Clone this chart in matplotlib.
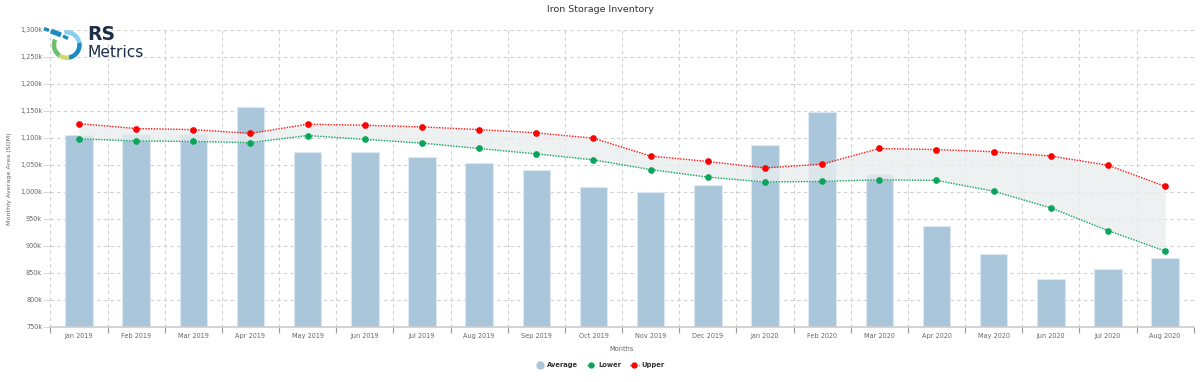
import matplotlib
matplotlib.use("Agg")
import matplotlib.pyplot as plt
from matplotlib.patches import Wedge
from matplotlib.lines import Line2D
from matplotlib.ticker import FuncFormatter, MultipleLocator
import numpy as np

months = ["Jan 2019", "Feb 2019", "Mar 2019", "Apr 2019", "May 2019", "Jun 2019",
          "Jul 2019", "Aug 2019", "Sep 2019", "Oct 2019", "Nov 2019", "Dec 2019",
          "Jan 2020", "Feb 2020", "Mar 2020", "Apr 2020", "May 2020", "Jun 2020",
          "Jul 2020", "Aug 2020"]
average = [1105, 1107, 1107, 1156, 1073, 1074, 1064, 1053, 1041, 1008, 999, 1013,
           1086, 1148, 1032, 937, 884, 838, 857, 877]
lower = [1098, 1094, 1093, 1091, 1104, 1097, 1090, 1080, 1070, 1059, 1041, 1027,
         1018, 1019, 1022, 1021, 1001, 970, 928, 890]
upper = [1126, 1117, 1115, 1108, 1125, 1123, 1120, 1115, 1109, 1099, 1066, 1056,
         1044, 1051, 1080, 1078, 1074, 1066, 1049, 1010]

W, H = 1200, 382
fig = plt.figure(figsize=(W / 100, H / 100), dpi=100)
fig.patch.set_facecolor("white")

left, right, top, bottom = 50.4, 1193.7, 29.7, 326.7
ax = fig.add_axes([left / W, 1 - bottom / H, (right - left) / W, (bottom - top) / H])

x = np.arange(len(months))
grid_c = "#d0d0d0"
ax.set_xlim(-0.5, len(months) - 0.5)
ax.set_ylim(750, 1300)
ax.yaxis.set_major_locator(MultipleLocator(50))
ax.yaxis.set_major_formatter(FuncFormatter(lambda v, p: f"{int(v):,}k"))

# grid
for yv in np.arange(750, 1301, 50):
    ax.axhline(yv, color=grid_c, lw=0.8, ls=(0, (3, 3)), zorder=0)
for xv in np.arange(-0.5, len(months), 1.0):
    ax.axvline(xv, color=grid_c, lw=0.8, ls=(0, (3, 3)), zorder=0)

ax.bar(x, average, width=0.48, bottom=0, color="#a9c6da", edgecolor="#dde8f0",
       linewidth=0.8, zorder=2)
ax.fill_between(x, lower, upper, color="#e9eeee", alpha=0.8, lw=0, zorder=3)
ax.plot(x, lower, color="#0aa55a", lw=1.0, ls=(0, (1, 1)), marker="o", ms=3.8,
        mec="#0aa55a", mfc="#0aa55a", zorder=4)
ax.plot(x, upper, color="#ff1010", lw=1.0, ls=(0, (1, 1)), marker="o", ms=3.8,
        mec="#ff0000", mfc="#ff0000", zorder=4)

ax.set_xticks(x)
ax.set_xticklabels(months)
ax.set_xticks(np.arange(-0.5, len(months), 1.0), minor=True)
ax.tick_params(axis="x", which="major", length=0, labelsize=4.7, colors="#666666", pad=4.5)
ax.tick_params(axis="x", which="minor", length=4.5, width=0.8, color="#999999")
ax.tick_params(axis="y", length=5, width=0.6, color="#d0d0d0", labelsize=4.7,
               labelcolor="#666666", pad=1)

for s in ["top", "right", "left"]:
    ax.spines[s].set_visible(False)
ax.spines["bottom"].set_color("#cccccc")
ax.spines["bottom"].set_linewidth(1.2)

ax.set_ylabel("Monthly Average Area (SQM)", fontsize=4.6, color="#666666")
ax.yaxis.set_label_coords((12 - left) / (right - left), 0.5)
ax.set_xlabel("Months", fontsize=4.8, color="#666666")
ax.xaxis.set_label_coords(0.5, (bottom - 346) / (bottom - top))

fig.text(0.5, 1 - 10 / H, "Iron Storage Inventory", ha="center", va="center",
         fontsize=6.8, color="#333333")

# legend
handles = [
    Line2D([], [], ls="none", marker="o", ms=5, mfc="#a9c6da", mec="#a9c6da"),
    Line2D([], [], color="#0aa55a", lw=1, ls=(0, (1, 1)), marker="o", ms=3.5, mfc="#0aa55a", mec="#0aa55a"),
    Line2D([], [], color="#ff1010", lw=1, ls=(0, (1, 1)), marker="o", ms=3.5, mfc="#ff0000", mec="#ff0000"),
]
leg = fig.legend(handles, ["Average", "Lower", "Upper"], loc="center",
                 bbox_to_anchor=(0.5, 1 - 365 / H), ncol=3, frameon=False,
                 prop={"size": 4.9, "weight": "bold"}, handlelength=1.3,
                 handletextpad=0.4, columnspacing=1.3)
for t in leg.get_texts():
    t.set_color("#333333")

# logo
lax = fig.add_axes([0, 0, 1, 1], zorder=10)
lax.set_xlim(0, W)
lax.set_ylim(H, 0)
lax.axis("off")
cx, cy, r = 66.7, 45, 15
# angles in math convention (y axis flipped, so negate)
segs = [(10, 100, "#86cfee"), (-80, 10, "#1a8cc4"), (-125, -80, "#cbdc72"),
        (-205, -125, "#6dbf6f")]
for a1, a2, c in segs:
    lax.add_patch(Wedge((cx, cy), r, -a2, -a1, width=4.5, color=c, lw=0))
# satellite
lax.plot([44, 49], [28.5, 30.5], color="#1a8cc4", lw=2.4, solid_capstyle="butt")
lax.plot([51, 61], [31, 35], color="#1a8cc4", lw=3.6, solid_capstyle="butt")
lax.plot([63, 68], [36, 38.5], color="#1a8cc4", lw=2.4, solid_capstyle="butt")
lax.text(87.5, 34, "RS", fontsize=13.5, fontweight="bold", color="#1c2e4a",
         va="center", ha="left", family="DejaVu Sans")
lax.text(87.5, 52.5, "Metrics", fontsize=11.2, color="#1c2e4a", va="center",
         ha="left", family="DejaVu Sans")

fig.savefig("out.png", dpi=100, facecolor="white")
